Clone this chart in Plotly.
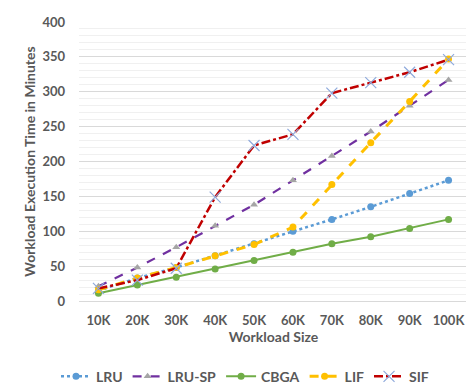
import plotly.graph_objects as go

categories = ["10K", "20K", "30K", "40K", "50K", "60K", "70K", "80K", "90K", "100K"]
lru = [15, 33, 48, 65, 82, 100, 117, 135, 154, 173]
lru_sp = [21, 48, 77, 108, 138, 173, 208, 243, 280, 317]
cbga = [11, 23, 34, 46, 58, 70, 82, 92, 104, 117]
lif = [16, 33, 48, 65, 81, 106, 167, 227, 286, 347]
sif = [18, 30, 47, 149, 223, 239, 298, 313, 328, 346]

font = "Lato, 'Open Sans', sans-serif"
grey = "#595959"

fig = go.Figure()
fig.add_trace(go.Scatter(x=categories, y=lru, name="LRU", mode="lines+markers",
                         line=dict(color="#5B9BD5", width=2.5, dash="dot"),
                         marker=dict(symbol="circle", size=7, color="#5B9BD5")))
fig.add_trace(go.Scatter(x=categories, y=lru_sp, name="LRU-SP", mode="lines+markers",
                         line=dict(color="#7030A0", width=2.2, dash="dash"),
                         marker=dict(symbol="triangle-up", size=7, color="#A5A5A5")))
fig.add_trace(go.Scatter(x=categories, y=cbga, name="CBGA", mode="lines+markers",
                         line=dict(color="#70AD47", width=2),
                         marker=dict(symbol="circle", size=7, color="#70AD47")))
fig.add_trace(go.Scatter(x=categories, y=lif, name="LIF", mode="lines+markers",
                         line=dict(color="#FFC000", width=3, dash="dash"),
                         marker=dict(symbol="circle", size=7, color="#FFC000")))
fig.add_trace(go.Scatter(x=categories, y=sif, name="SIF", mode="lines+markers",
                         line=dict(color="#C00000", width=2.5, dash="dashdot"),
                         marker=dict(symbol="x-thin", size=11, color="#8FAADC",
                                     line=dict(color="#8FAADC", width=1.2))))

fig.update_layout(
    width=474, height=389,
    margin=dict(l=71, r=14, t=14, b=96, autoexpand=False),
    paper_bgcolor="white", plot_bgcolor="white",
    font=dict(family=font, size=13, color=grey),
    legend=dict(orientation="h", xref="container", x=0.5, xanchor="center",
                yref="container", y=0.052, yanchor="middle",
                font=dict(family=font, size=14, color=grey, weight="bold"),
                itemwidth=30, tracegroupgap=0),
    showlegend=True,
)
fig.update_xaxes(type="category", range=[-0.5, 9.5], showgrid=False, showline=False,
                 ticks="", ticklabelstandoff=10, automargin=True,
                 tickfont=dict(family=font, size=13, color=grey, weight="bold"),
                 title=dict(text="Workload Size", standoff=4,
                            font=dict(family=font, size=14, color=grey, weight="bold")))
fig.update_yaxes(range=[0, 400], dtick=50, showgrid=True, gridcolor="#D9D9D9", gridwidth=1,
                 zeroline=True, zerolinecolor="#D9D9D9", zerolinewidth=1, showline=False,
                 ticks="", ticklabelstandoff=13, automargin=True,
                 minor=dict(dtick=10, showgrid=True, gridcolor="#F0F0F0", gridwidth=1),
                 tickfont=dict(family=font, size=13, color=grey, weight="bold"),
                 title=dict(text="Workload Execution Time in Minutes", standoff=3,
                            font=dict(family=font, size=14, color=grey, weight="bold")))

fig.write_html("out.html")
